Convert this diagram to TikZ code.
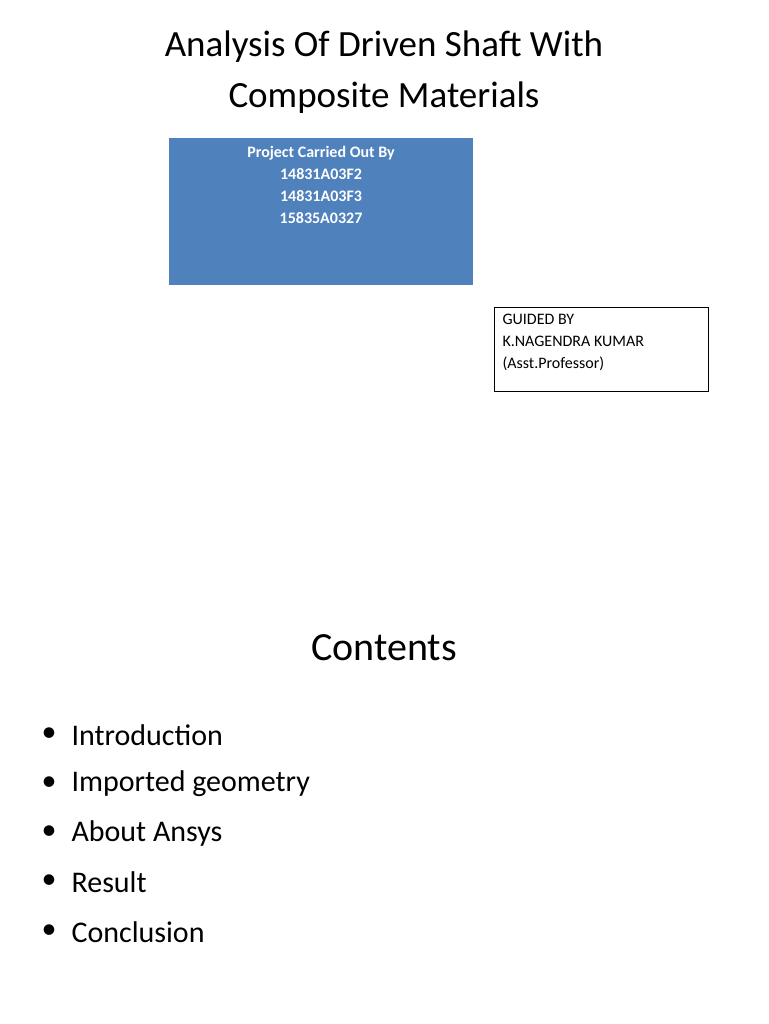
\documentclass[tikz,border=0pt]{standalone}
\usepackage{fontspec}
\setmainfont{Carlito}
\definecolor{boxblue}{HTML}{4F81BD}
\begin{document}
\begin{tikzpicture}[x=1pt,y=-1pt,
  title/.style={font=\fontsize{37}{51}\selectfont,align=center},
  small/.style={font=\fontsize{16}{22}\selectfont},
  bul/.style={font=\fontsize{30}{36}\selectfont,anchor=west}]
\useasboundingbox[fill=white] (0,0) rectangle (768,1024);
\node[title] (t) at (384,72) {Analysis Of Driven Shaft With\\Composite Materials};
\node[fill=boxblue,minimum width=304pt,minimum height=147pt,anchor=north west] (b) at (169,138) {};
\node[small,text=white,font=\fontsize{16}{22}\selectfont\bfseries,align=center,anchor=north] (bt) at (321,143) {Project Carried Out By\\14831A03F2\\14831A03F3\\15835A0327};
\node[draw,line width=0.8pt,minimum width=214pt,minimum height=84pt,anchor=north west] (g) at (494,307) {};
\node[small,align=left,anchor=north west] (gt) at (499,311) {GUIDED BY\\K.NAGENDRA KUMAR\\(Asst.Professor)};
\node[font=\fontsize{40}{48}\selectfont] (c) at (384,648) {Contents};
\foreach \y/\t [count=\i] in {735/Introduction,784/Imported geometry,833/About Ansys,882/Result,932/Conclusion}{
  \node[bul] (d\i) at (38,\y) {•};
  \node[bul] (l\i) at (68,\y) {\t};
}
\end{tikzpicture}
\end{document}
